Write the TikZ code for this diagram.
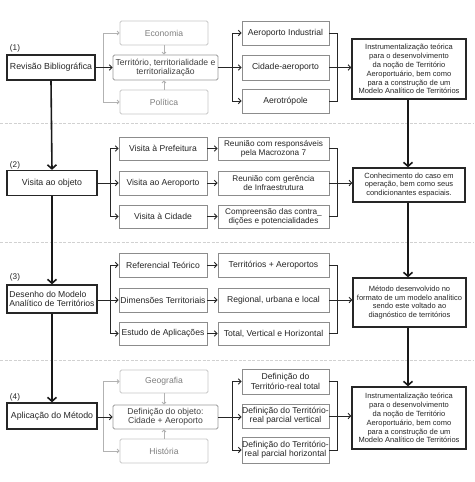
\documentclass[tikz,border=0pt]{standalone}
\usepackage{fontspec}
\setmainfont{Liberation Sans}
\usetikzlibrary{arrows.meta,calc}
\begin{document}
\begin{tikzpicture}[x=1pt,y=-1pt,
  every node/.style={inner sep=0pt,align=center},
  mainbox/.style={draw=black!85,line width=1.3pt,font=\fontsize{8.8}{9.6}\selectfont,text=black!85},
  graybox/.style={draw=black!22,line width=0.8pt,rounded corners=1.5pt,font=\fontsize{8.6}{9.4}\selectfont,text=black!50},
  midbox/.style={draw=black!45,line width=0.8pt,font=\fontsize{8.6}{9.4}\selectfont,text=black!85},
  resbox/.style={draw=black!85,line width=1.3pt,font=\fontsize{7.5}{8.9}\selectfont,text=black!85},
  conn/.style={draw=black!85,line width=1pt},
  arr/.style={conn,-{Straight Barb[length=2.6pt,width=5.5pt]}},
  garr/.style={draw=black!30,line width=0.8pt,-{Straight Barb[length=2pt,width=4pt]}},
  bigarr/.style={draw=black!90,line width=1.6pt,-{Straight Barb[length=4pt,width=9pt]}},
  sep/.style={draw=black!18,line width=0.8pt,dash pattern=on 3pt off 1.5pt},
  lab/.style={font=\fontsize{8.2}{9}\selectfont,text=black!85}
]
\useasboundingbox (0,0) rectangle (474,482);
\fill[white] (0,0) rectangle (474,482);

% separators
\draw[sep] (0,123) -- (474,123);
\draw[sep] (0,242) -- (474,242);
\draw[sep] (0,360) -- (474,360);

% ---------- Section 1 ----------
\node[lab] (l1) at (15,48) {(1)};
\node[mainbox,minimum width=88pt,minimum height=25pt] (rev) at (51,67.5) {Revisão Bibliográfica};
\node[graybox,minimum width=88pt,minimum height=24pt] (econ) at (164,33) {Economia};
\node[graybox,draw=black!40,text=black!75,minimum width=105pt,minimum height=25pt] (terr) at (165.5,67.5) {Território, territorialidade e\\territorialização};
\node[graybox,minimum width=88pt,minimum height=24pt] (pol) at (164,102) {Política};
\node[midbox,minimum width=87pt,minimum height=24pt] (ai) at (285.5,33) {Aeroporto Industrial};
\node[midbox,minimum width=87pt,minimum height=25pt] (ca) at (285.5,67.5) {Cidade-aeroporto};
\node[midbox,minimum width=87pt,minimum height=24pt] (at) at (285.5,101) {Aerotrópole};
\node[resbox,minimum width=114pt,minimum height=60pt] (res1) at (409,69) {Instrumentalização teórica\\para o desenvolvimento\\da noção de Território\\Aeroportuário, bem como\\para a construção de um\\Modelo Analítico de Territórios};

\coordinate (g1) at (103,67.5);
\draw[garr] (g1) |- (econ.west);
\draw[garr] (g1) |- (pol.west);
\draw[arr] (rev.east) -- (terr.west);
\draw[garr] (econ.south) -- (econ.south |- terr.north);
\draw[garr] (pol.north) -- (pol.north |- terr.south);
\coordinate (b1) at (232,67.5);
\draw[arr] (terr.east) -- (ca.west);
\draw[arr] (b1) |- (ai.west);
\draw[arr] (b1) |- (at.west);
\draw[conn] (ai.east) -- ++(8,0) |- (at.east);
\draw[arr] (ca.east) -- (ca.east -| res1.west);

% ---------- Section 2 ----------
\node[lab] (l2) at (15,165) {(2)};
\node[mainbox,minimum width=90pt,minimum height=25pt] (vis) at (52,183) {Visita ao objeto};
\node[midbox,minimum width=88pt,minimum height=23pt] (vp) at (163,148.5) {Visita à Prefeitura};
\node[midbox,minimum width=88pt,minimum height=24pt] (vae) at (163,183) {Visita ao Aeroporto};
\node[midbox,minimum width=88pt,minimum height=23pt] (vc) at (163,216.5) {Visita à Cidade};
\node[midbox,minimum width=111pt,minimum height=23pt,font=\fontsize{8.2}{9}\selectfont] (r1) at (273.5,148.5) {Reunião com responsáveis\\pela Macrozona 7};
\node[midbox,minimum width=111pt,minimum height=24pt,font=\fontsize{8.2}{9}\selectfont] (r2) at (273.5,183) {Reunião com gerência\\de Infraestrutura};
\node[midbox,minimum width=111pt,minimum height=23pt,font=\fontsize{8.2}{9}\selectfont] (r3) at (273.5,216.5) {Compreensão das contra\_\\dições e potencialidades};
\node[resbox,minimum width=112pt,minimum height=34pt] (res2) at (409,185) {Conhecimento do caso em\\operação, bem como seus\\condicionantes espaciais.};

\draw[bigarr] (rev.south) -- (vis.north);
\draw[bigarr] (res1.south -| 408,0) -- (res2.north -| 408,0);
\coordinate (b2) at (110,183);
\draw[arr] (vis.east) -- (vae.west);
\draw[arr] (b2) |- (vp.west);
\draw[arr] (b2) |- (vc.west);
\draw[arr] (vp.east) -- (r1.west);
\draw[arr] (vae.east) -- (r2.west);
\draw[arr] (vc.east) -- (r3.west);
\draw[conn] (r1.east) -- ++(8,0) |- (r3.east);
\draw[arr] (r2.east) -- (r2.east -| res2.west);

% ---------- Section 3 ----------
\node[lab] (l3) at (15,277) {(3)};
\node[mainbox,minimum width=90pt,minimum height=28pt,align=left,font=\fontsize{8.6}{9.6}\selectfont] (des) at (52,299) {Desenho do Modelo\\Analítico de Territórios};
\node[midbox,minimum width=88pt,minimum height=24pt] (rt) at (163,265) {Referencial Teórico};
\node[midbox,minimum width=88pt,minimum height=24pt] (dt) at (163,300) {Dimensões Territoriais};
\node[midbox,minimum width=88pt,minimum height=23pt] (ea) at (163,333.5) {Estudo de Aplicações};
\node[midbox,minimum width=111pt,minimum height=24pt] (t1) at (273.5,265) {Territórios + Aeroportos};
\node[midbox,minimum width=111pt,minimum height=24pt] (t2) at (273.5,300) {Regional, urbana e local};
\node[midbox,minimum width=111pt,minimum height=23pt] (t3) at (273.5,333.5) {Total, Vertical e Horizontal};
\node[resbox,minimum width=113pt,minimum height=49pt] (res3) at (409.5,302.5) {Método desenvolvido no\\formato de um modelo analítico\\sendo este voltado ao\\diagnóstico de territórios};

\draw[bigarr] (vis.south) -- (des.north);
\draw[bigarr] (res2.south -| 408,0) -- (res3.north -| 408,0);
\coordinate (b3) at (110,300);
\draw[arr] (des.east |- dt.west) -- (dt.west);
\draw[arr] (b3) |- (rt.west);
\draw[arr] (b3) |- (ea.west);
\draw[arr] (rt.east) -- (t1.west);
\draw[arr] (dt.east) -- (t2.west);
\draw[arr] (ea.east) -- (t3.west);
\draw[conn] (t1.east) -- ++(8,0) |- (t3.east);
\draw[arr] (t2.east) -- (t2.east -| res3.west);

% ---------- Section 4 ----------
\node[lab] (l4) at (15,397) {(4)};
\node[mainbox,minimum width=90pt,minimum height=26pt] (apl) at (52,416) {Aplicação do Método};
\node[graybox,minimum width=88pt,minimum height=23pt] (geo) at (164,381.5) {Geografia};
\node[graybox,draw=black!40,text=black!75,minimum width=105pt,minimum height=24pt] (def) at (165.5,417) {Definição do objeto:\\Cidade + Aeroporto};
\node[graybox,minimum width=88pt,minimum height=24pt] (hist) at (164,451) {História};
\node[midbox,minimum width=87pt,minimum height=25pt] (d1) at (285.5,381.5) {Definição do\\Território-real total};
\node[midbox,minimum width=87pt,minimum height=24pt] (d2) at (285.5,416) {Definição do Território-\\real parcial vertical};
\node[midbox,minimum width=87pt,minimum height=26pt] (d3) at (285.5,450) {Definição do Território-\\real parcial horizontal};
\node[resbox,minimum width=114pt,minimum height=62pt] (res4) at (409,418) {Instrumentalização teórica\\para o desenvolvimento\\da noção de Território\\Aeroportuário, bem como\\para a construção de um\\Modelo Analítico de Territórios};

\draw[bigarr] (des.south) -- (apl.north);
\draw[bigarr] (res3.south -| 408,0) -- (res4.north -| 408,0);
\coordinate (g4) at (103,417);
\draw[garr] (g4) |- (geo.west);
\draw[garr] (g4) |- (hist.west);
\draw[arr] (apl.east |- def.west) -- (def.west);
\draw[garr] (geo.south) -- (geo.south |- def.north);
\draw[garr] (hist.north) -- (hist.north |- def.south);
\coordinate (b4) at (232,417);
\draw[arr] (def.east) -- (def.east -| d2.west);
\draw[arr] (b4) |- (d1.west);
\draw[arr] (b4) |- (d3.west);
\draw[conn] (d1.east) -- ++(8,0) |- (d3.east);
\draw[arr] (d2.east) -- (d2.east -| res4.west);
\end{tikzpicture}
\end{document}
